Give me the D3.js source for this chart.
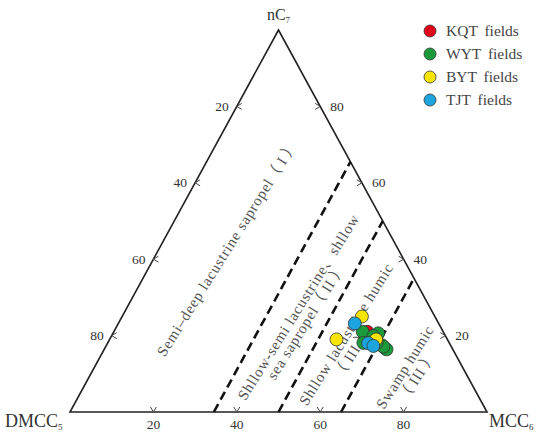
<!DOCTYPE html>
<html>
<head>
<meta charset="utf-8">
<script src="https://cdn.jsdelivr.net/npm/d3@7"></script>
<style>
  body { margin: 0; background: #fff; }
  text { font-family: "Liberation Serif", "DejaVu Serif", "Noto Sans CJK SC", serif; }
</style>
</head>
<body>
<script>
// tick labels on each side of the triangle
var tickValues = [20, 40, 60, 80];

// class boundaries, as MCC6 percent
var boundaries = [34.5, 50, 65];

// samples as [nC7, DMCC5, MCC6] percent
var kqtPoints = [[21.0, 18.2, 60.8]];
var wytPoints = [
    [21.0, 19.3, 59.7], [20.6, 15.8, 63.6], [19.9, 17.3, 62.8], [17.5, 16.5, 66.0],
    [16.4, 15.9, 67.7], [17.1, 16.3, 66.6], [18.1, 20.6, 61.3], [18.1, 17.4, 64.5]
];
var bytPoints = [[25.0, 17.5, 57.5], [19.0, 26.6, 54.4], [19.0, 17.1, 63.9]];
var tjtPoints = [[23.2, 20.1, 56.7], [18.0, 19.5, 62.5], [17.3, 18.6, 64.1]];

var seriesNames = ["KQT fields", "WYT fields", "BYT fields", "TJT fields"];
var seriesColors = ["#e3001b", "#1b9a3c", "#f7e400", "#1ca4de"];
var seriesData = [kqtPoints, wytPoints, bytPoints, tjtPoints];

// zone names, one entry per text line
var zoneLines = [
    "Semi\u2013deep lacustrine sapropel\uff08\u2009I\u2009\uff09",
    "Shllow-semi lacustrine\u3001shllow",
    "sea sapropel\uff08\u2009II\u2009\uff09",
    "Shllow lacustrine humic",
    "\uff08\u2009III\u2009\uff09",
    "Swamp humic",
    "\uff08\u2009III\u2009\uff09"
];

var w = 550, h = 438;
var svg = d3.select("body").append("svg")
    .attr("width", w)
    .attr("height", h);

// base runs along MCC6, height along nC7
var x = d3.scaleLinear().domain([0, 100]).range([70, 487]);
var y = d3.scaleLinear().domain([0, 100]).range([412, 30]);

function pos(d){
    return [x(d[2] + d[0] / 2), y(d[0])];
}

var corners = [pos([100, 0, 0]), pos([0, 100, 0]), pos([0, 0, 100])];
svg.append("path")
    .attr("d", "M" + corners.join("L") + "Z")
    .style("fill", "none")
    .style("stroke", "#222")
    .style("stroke-width", 1.6);

// chevron ticks and labels
var tickG = svg.append("g").style("stroke", "#444").style("fill", "none").style("stroke-width", 1);
var labelG = svg.append("g").style("font-size", "13.5px").style("fill", "#333");

tickValues.forEach(function(t){
    var b = pos([0, 100 - t, t]);
    tickG.append("path").attr("d", "M" + (b[0] - 3) + "," + (b[1] - 5) + "L" + b[0] + "," + b[1] + "L" + (b[0] + 3) + "," + (b[1] - 5));
    labelG.append("text").attr("x", b[0]).attr("y", b[1] + 17).attr("text-anchor", "middle").text(t);

    var l = pos([100 - t, t, 0]);
    tickG.append("path").attr("d", "M" + (l[0] + 5) + "," + (l[1] - 3) + "L" + l[0] + "," + l[1] + "L" + (l[0] + 5) + "," + (l[1] + 3));
    labelG.append("text").attr("x", l[0] - 8).attr("y", l[1] + 4.5).attr("text-anchor", "end").text(t);

    var r = pos([t, 0, 100 - t]);
    tickG.append("path").attr("d", "M" + (r[0] - 5) + "," + (r[1] - 3) + "L" + r[0] + "," + r[1] + "L" + (r[0] - 5) + "," + (r[1] + 3));
    labelG.append("text").attr("x", r[0] + 10).attr("y", r[1] + 4.5).attr("text-anchor", "start").text(t);
});

// dashed class boundaries (constant MCC6)
svg.selectAll(".boundary")
    .data(boundaries)
    .enter()
    .append("line")
    .attr("class", "boundary")
    .attr("x1", function(c){ return pos([0, 100 - c, c])[0]; })
    .attr("y1", function(c){ return pos([0, 100 - c, c])[1]; })
    .attr("x2", function(c){ return pos([100 - c, 0, c])[0]; })
    .attr("y2", function(c){ return pos([100 - c, 0, c])[1]; })
    .style("stroke", "#111")
    .style("stroke-width", 2.6)
    .style("stroke-dasharray", "9,5");

// where each zone line sits, ternary [nC7, DMCC5, MCC6]
var zoneSpots = [
    [42.9, 40.9, 16.2], [27.5, 31.5, 41.0], [23.8, 31.5, 44.7],
    [20.4, 23.6, 56.0], [15.4, 24.7, 59.9], [11.8, 13.8, 74.4], [9.4, 12.1, 78.5]
];
svg.selectAll(".zone")
    .data(zoneLines)
    .enter()
    .append("text")
    .attr("class", "zone")
    .attr("text-anchor", "middle")
    .attr("dy", "0.35em")
    .attr("transform", function(d, i){
        var p = pos(zoneSpots[i]);
        return "translate(" + p[0] + "," + p[1] + ") rotate(-58)";
    })
    .style("font-size", "15px")
    .style("letter-spacing", "0.8px")
    .style("fill", "#555")
    .text(function(d){ return d; });

// sample points
seriesData.forEach(function(pts, i){
    svg.selectAll(".pt" + i)
        .data(pts)
        .enter()
        .append("circle")
        .attr("class", "pt" + i)
        .attr("cx", function(d){ return pos(d)[0]; })
        .attr("cy", function(d){ return pos(d)[1]; })
        .attr("r", 6.5)
        .style("fill", seriesColors[i])
        .style("stroke", "#333")
        .style("stroke-width", 0.8);
});

// corner names
var topName = svg.append("text").attr("x", corners[0][0]).attr("y", 20).attr("text-anchor", "middle")
    .style("font-size", "16px").style("fill", "#333");
topName.append("tspan").text("nC");
topName.append("tspan").attr("dy", 3).style("font-size", "9px").text("7");

var leftName = svg.append("text").attr("x", 5).attr("y", 427).style("font-size", "18px").style("fill", "#333");
leftName.append("tspan").text("DMCC");
leftName.append("tspan").attr("dy", 3).style("font-size", "9px").text("5");

var rightName = svg.append("text").attr("x", 489).attr("y", 427).style("font-size", "18px").style("fill", "#333");
rightName.append("tspan").text("MCC");
rightName.append("tspan").attr("dy", 3).style("font-size", "9px").text("6");

// legend
var legend = svg.selectAll(".legend")
    .data(seriesNames)
    .enter()
    .append("g")
    .attr("class", "legend")
    .attr("transform", function(d, i){ return "translate(430," + (31 + i * 23) + ")"; });
legend.append("circle")
    .attr("r", 6)
    .style("fill", function(d, i){ return seriesColors[i]; })
    .style("stroke", "#333")
    .style("stroke-width", 0.8);
legend.append("text")
    .attr("x", 16)
    .attr("y", 5)
    .style("font-size", "15.5px")
    .style("word-spacing", "3px")
    .style("fill", "#444")
    .text(function(d){ return d; });
</script>
</body>
</html>
